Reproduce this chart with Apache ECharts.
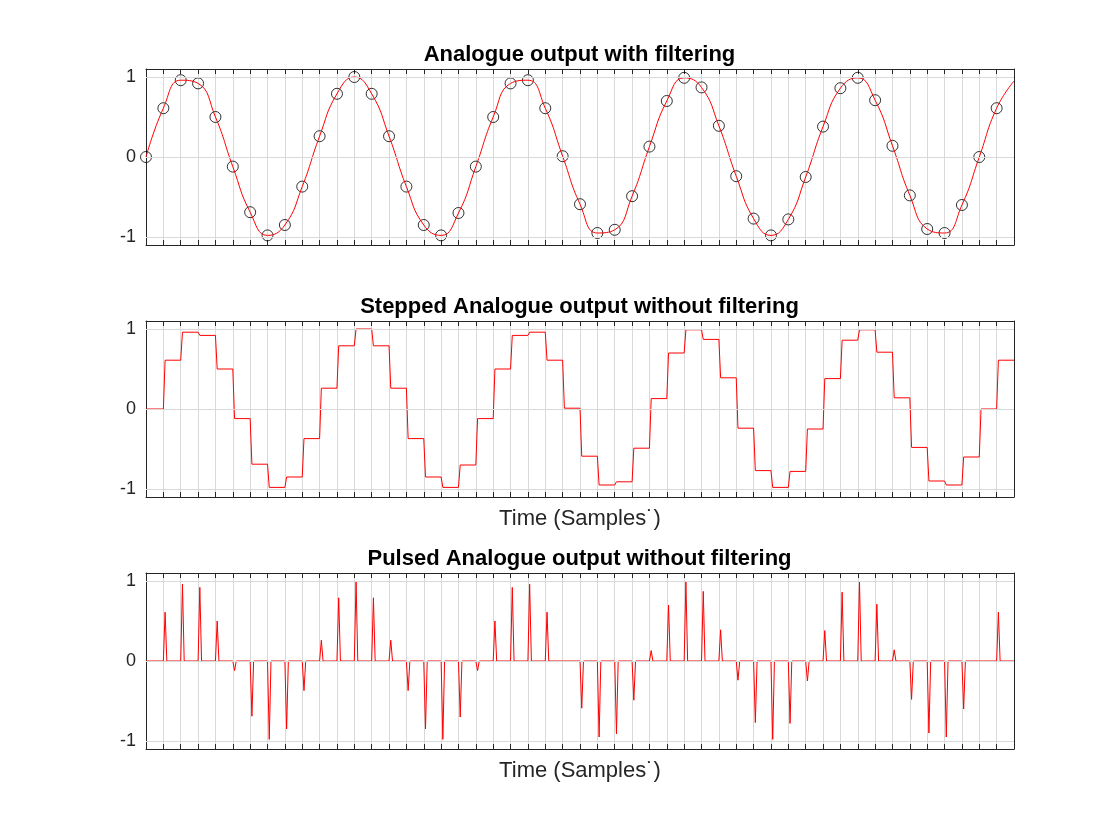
<!DOCTYPE html>
<html>
<head>
<meta charset="utf-8">
<script src="https://cdn.jsdelivr.net/npm/echarts@6/dist/echarts.min.js"></script>
<style>
  html, body { margin: 0; padding: 0; background: #fff; }
  #chart { width: 1120px; height: 840px; }
</style>
</head>
<body>
<div id="chart"></div>
<script>
// sample values 0..49
const samples = [
  0, 0.61, 0.96, 0.92, 0.50, -0.12, -0.69, -0.98, -0.85, -0.37,
  0.26, 0.79, 1.0, 0.79, 0.26, -0.37, -0.85, -0.98, -0.70, -0.12,
  0.50, 0.92, 0.96, 0.61, 0.01, -0.59, -0.95, -0.91, -0.49, 0.13,
  0.70, 0.99, 0.87, 0.39, -0.24, -0.77, -0.98, -0.78, -0.25, 0.38,
  0.86, 0.99, 0.71, 0.14, -0.48, -0.90, -0.95, -0.60, 0.0, 0.61
];
const filteredEnd = 0.95;   // filtered curve at the right edge (x = 50)
const yTicks = [-1, 0, 1];
const titles = [
  'Analogue output with filtering',
  'Stepped Analogue output without filtering',
  'Pulsed Analogue output without filtering'
];
const xName = 'Time (Samples˙)';
const xMax = 50;
const lag = 0.1;            // hold / pulse lag in the lower panels

const FONT = 'Helvetica, Arial, "Liberation Sans", sans-serif';
const AXIS = '#262626';
const GRIDC = '#d9d9d9';
const RED = '#ff0000';
const tops = [69, 321, 573];
const H = 176;

const chart = echarts.init(document.getElementById('chart'), null, { renderer: 'canvas' });

// derived point lists
const filtered = samples.map((v, i) => [i, v]).concat([[xMax, filteredEnd]]);
const stepped = [[0, samples[0]]];
for (let i = 1; i < samples.length; i++) {
  stepped.push([i, samples[i - 1]], [i + lag, samples[i]]);
}
stepped.push([xMax, samples[samples.length - 1]]);
const pulsed = [];
samples.forEach((v, i) => pulsed.push([i, 0], [i + lag, v], [i + 2 * lag, 0]));
pulsed.push([xMax, 0]);

const grid = tops.map((t) => ({ left: 146, right: 106, top: t, height: H }));
const xAxis = [];
const yAxis = [];
tops.forEach((t, i) => {
  const common = {
    gridIndex: i, type: 'value', min: 0, max: xMax, interval: 1,
    axisLine: { show: true, onZero: false, lineStyle: { color: AXIS, width: 1 } },
    axisTick: { show: true, inside: true, length: 5, lineStyle: { color: AXIS, width: 1 } },
    axisLabel: { show: false },
  };
  xAxis.push(Object.assign({}, common, {
    position: 'bottom',
    splitLine: { show: true, lineStyle: { color: GRIDC, width: 1 } },
    name: i > 0 ? xName : '',
    nameLocation: 'middle',
    nameGap: 11,
    nameTextStyle: { fontFamily: FONT, fontSize: 22, color: AXIS },
  }));
  xAxis.push(Object.assign({}, common, { position: 'top', splitLine: { show: false } }));

  const ycommon = {
    gridIndex: i, type: 'value', min: -1.1, max: 1.1,
    axisLine: { show: true, onZero: false, lineStyle: { color: AXIS, width: 1 } },
    axisTick: { show: true, inside: true, length: 6, customValues: yTicks, lineStyle: { color: AXIS, width: 1 } },
    splitLine: { show: false },
  };
  yAxis.push(Object.assign({}, ycommon, {
    position: 'left',
    axisLabel: { show: true, customValues: yTicks, fontFamily: FONT, fontSize: 18, color: AXIS, margin: 10 },
  }));
  yAxis.push(Object.assign({}, ycommon, { position: 'right', axisLabel: { show: false } }));
});

const lineStyle = { color: RED, width: 1 };
const series = [];
tops.forEach((t, i) => {
  // horizontal grid lines at the y ticks
  series.push({
    type: 'line', xAxisIndex: 2 * i, yAxisIndex: 2 * i, data: [], z: 1, silent: true,
    markLine: {
      silent: true, symbol: 'none', label: { show: false },
      lineStyle: { color: GRIDC, width: 1, type: 'solid' },
      data: yTicks.map((v) => ({ yAxis: v })),
    },
  });
});
series.push({
  type: 'scatter', xAxisIndex: 0, yAxisIndex: 0, z: 3,
  data: samples.map((v, i) => [i, v]),
  symbol: 'circle', symbolSize: 11,
  itemStyle: { color: 'rgba(0,0,0,0)', borderColor: '#000', borderWidth: 1 },
});
series.push({
  type: 'line', xAxisIndex: 0, yAxisIndex: 0, z: 4, data: filtered,
  smooth: true, showSymbol: false, lineStyle,
});
series.push({
  type: 'line', xAxisIndex: 2, yAxisIndex: 2, z: 4, data: stepped,
  showSymbol: false, lineStyle,
});
series.push({
  type: 'line', xAxisIndex: 4, yAxisIndex: 4, z: 4, data: pulsed,
  showSymbol: false, lineStyle,
});

chart.setOption({
  animation: false,
  backgroundColor: '#fff',
  title: titles.map((txt, i) => ({
    text: txt, left: 574.5, textAlign: 'center', top: tops[i] - 30,
    textStyle: { fontFamily: FONT, fontSize: 22, fontWeight: 'bold', color: '#000' },
  })),
  grid, xAxis, yAxis, series,
});
</script>
</body>
</html>
